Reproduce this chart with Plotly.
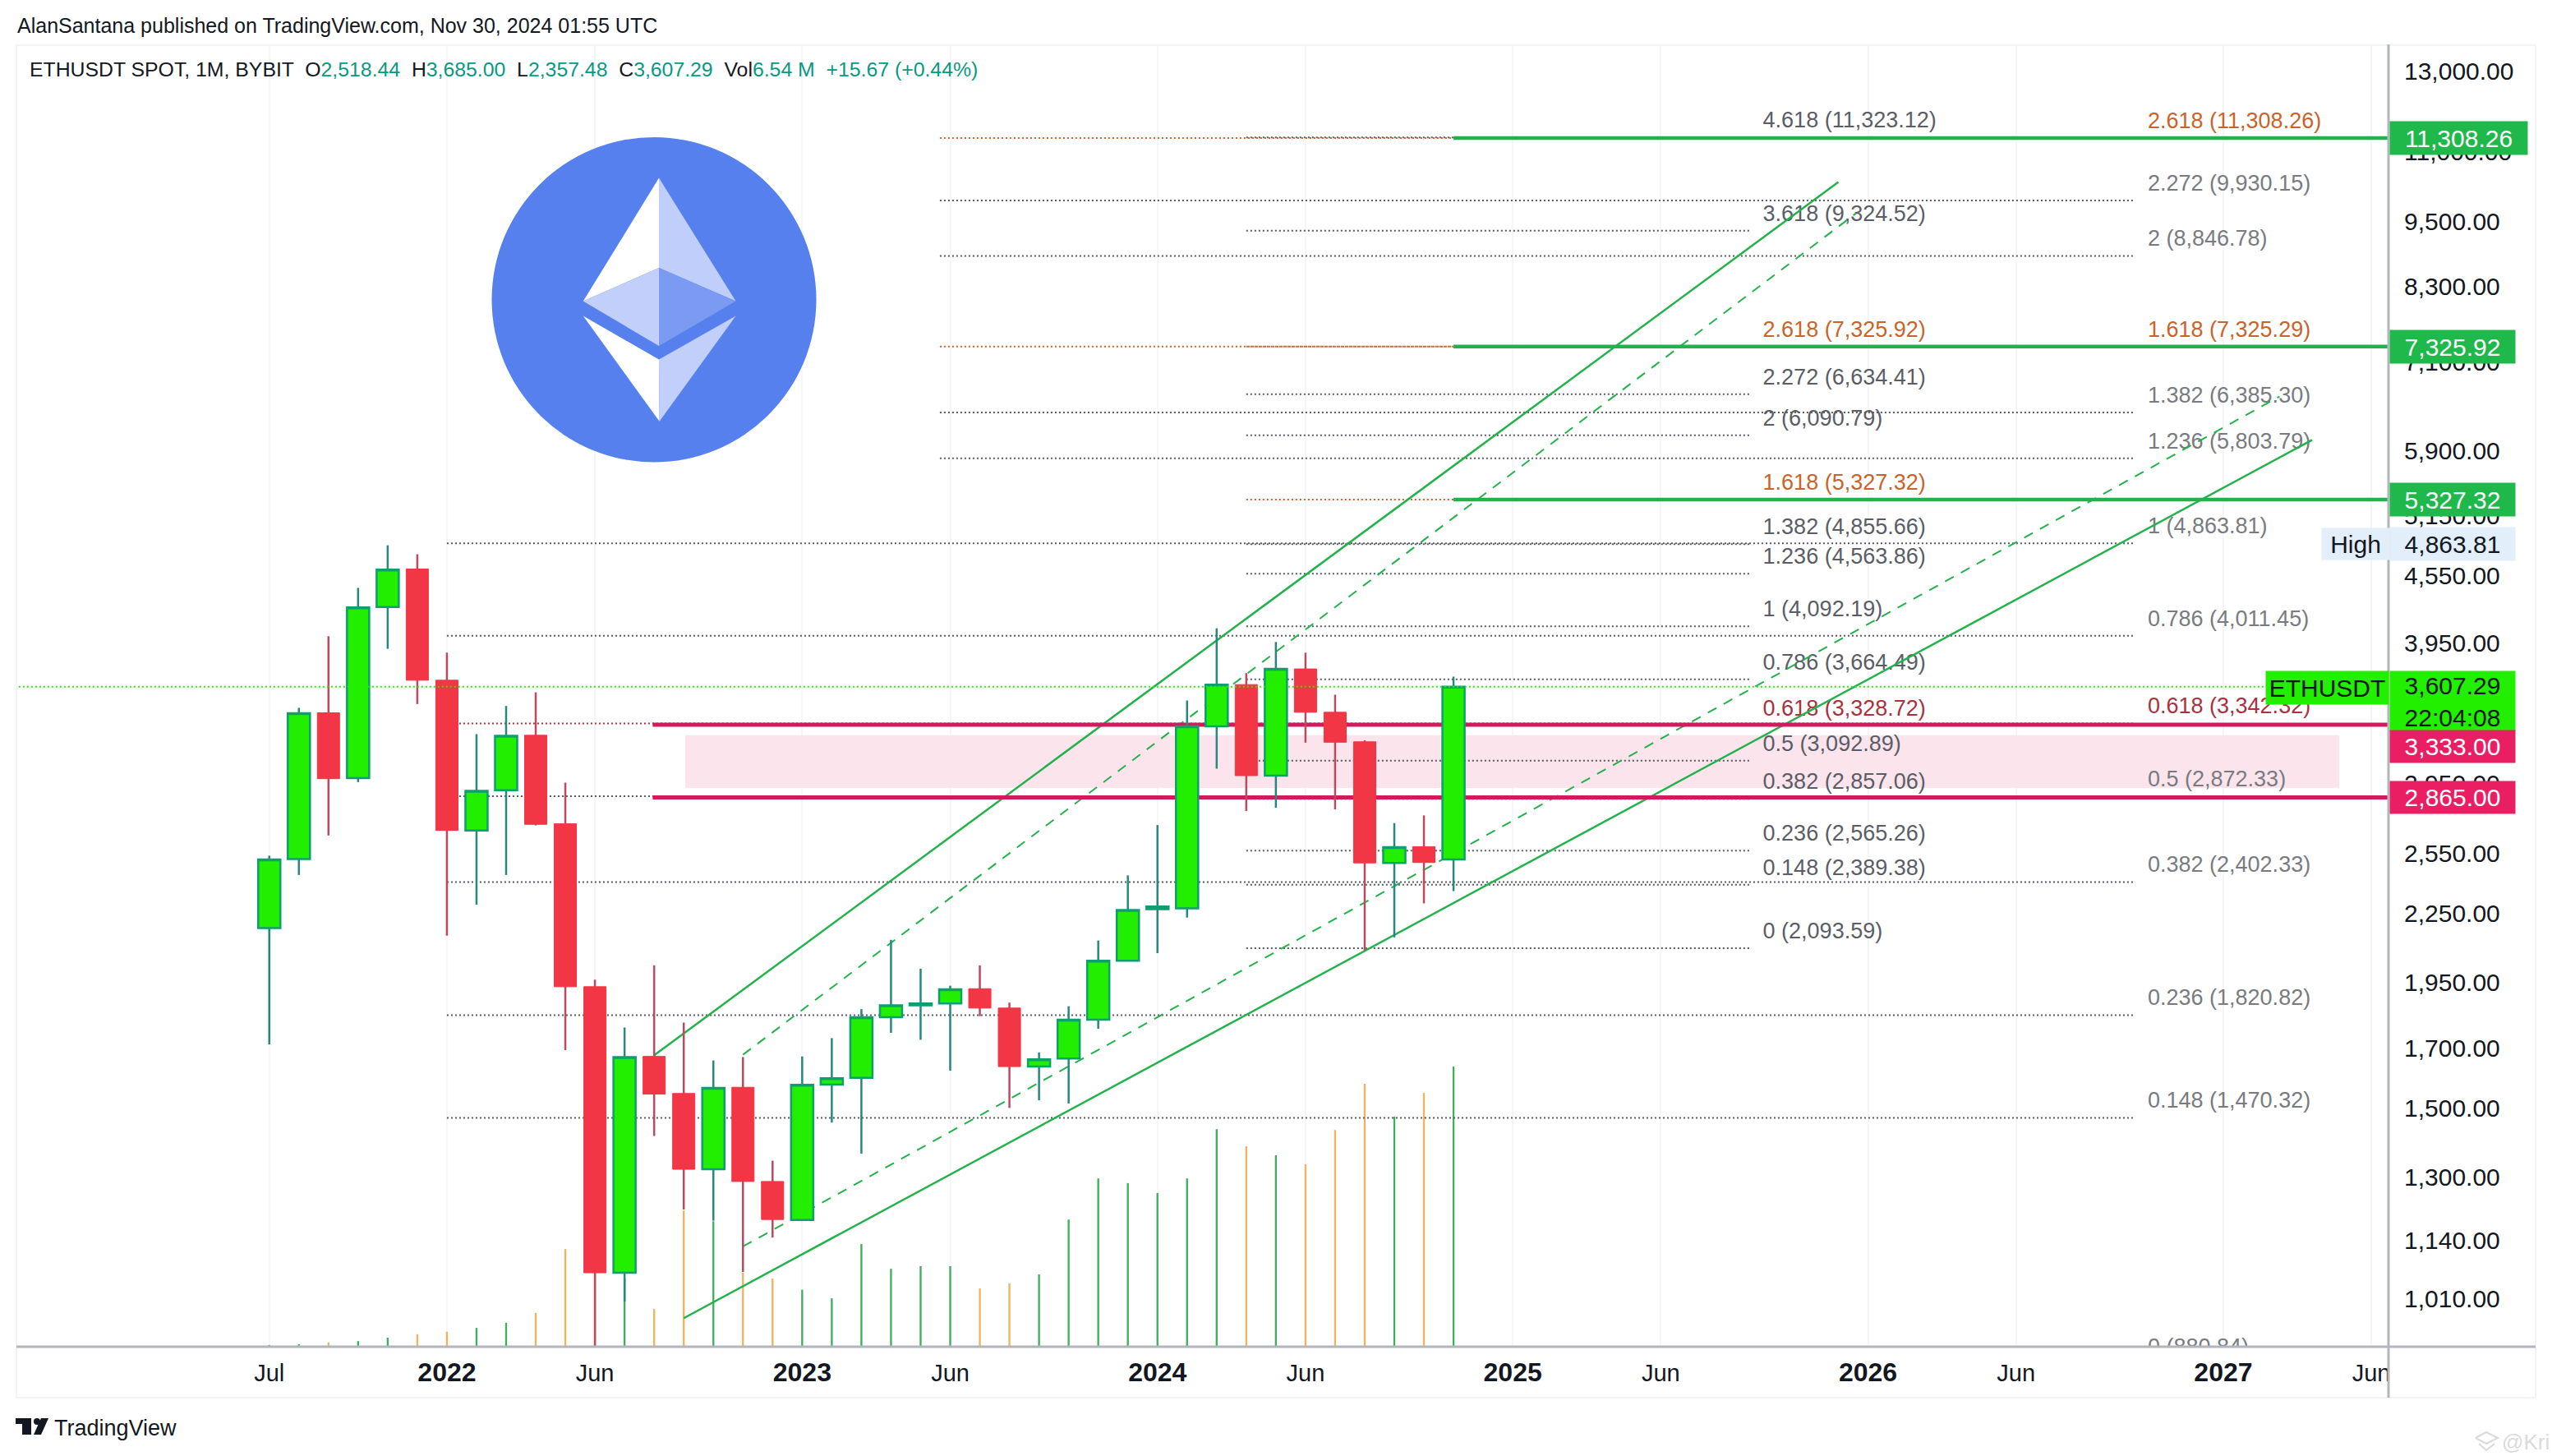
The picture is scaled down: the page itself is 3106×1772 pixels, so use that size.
import plotly.graph_objects as go

# monthly candles, Jul 2021 .. Nov 2024 (x = months since Jul 2021)
opens = [2183, 2520, 3417, 2983, 4259, 4610, 3657, 2675, 2908, 3261, 2712, 1932, 1065, 1671, 1547, 1321, 1567, 1288,
         1189, 1576, 1598, 1813, 1859, 1866, 1924, 1848, 1636, 1664, 1804, 2039, 2270, 2274, 3322, 3624, 2998, 3744,
         3421, 3217, 2500, 2586, 2518.44]
highs = [2538, 3453, 4008, 4432, 4843, 4754, 3873, 3269, 3466, 3566, 2955, 1961, 1775, 2020, 1793, 1657, 1669, 1345,
         1671, 1736, 1844, 2130, 2006, 1936, 2020, 1869, 1685, 1855, 2127, 2436, 2705, 3506, 4074, 3712, 3960, 3873,
         3548, 3227, 2716, 2760, 3685.00]
lows = [1713, 2438, 2647, 2958, 3904, 3480, 2149, 2292, 2438, 2703, 1693, 881, 1003, 1416, 1215, 1187, 1067, 1146,
        1186, 1456, 1365, 1755, 1730, 1622, 1817, 1501, 1525, 1515, 1770, 2037, 2072, 2231, 3042, 2786, 2804, 3211,
        2795, 2083, 2141, 2298, 2357.48]
closes = [2518, 3414, 2979, 4255, 4604, 3657, 2675, 2905, 3258, 2709, 1932, 1065, 1669, 1545, 1321, 1565, 1288, 1190,
          1575, 1597, 1813, 1859, 1866, 1922, 1848, 1636, 1661, 1804, 2039, 2267, 2283, 3322, 3624, 2998, 3744, 3421,
          3214, 2500, 2584, 2502, 3607.29]
volumes = [0.04, 0.06, 0.10, 0.13, 0.21, 0.29, 0.35, 0.44, 0.56, 0.79, 2.28, 2.60, 1.60, 0.88, 3.18, 2.93, 1.73, 1.59,
           1.33, 1.13, 2.40, 1.82, 1.88, 1.88, 1.36, 1.48, 1.69, 2.97, 3.93, 3.82, 3.59, 3.93, 5.08, 4.68, 4.47, 4.26,
           5.06, 6.14, 5.37, 5.93, 6.54]
months = list(range(len(opens)))

# time axis
YEAR = '<span style="font-size:32px;font-weight:bold">%s</span>'
tick_months = [0, 6, 11, 18, 23, 30, 35, 42, 47, 54, 59, 66, 71]
tick_labels = ["Jul", YEAR % "2022", "Jun", YEAR % "2023", "Jun", YEAR % "2024", "Jun", YEAR % "2025", "Jun",
               YEAR % "2026", "Jun", YEAR % "2027", "Jun"]
price_ticks = [13000, 11000, 9500, 8300, 7100, 5900, 5150, 4550, 3950, 3350, 2950, 2550, 2250, 1950, 1700, 1500, 1300,
               1140, 1010]

# fib levels: first one drawn from Apr 2024, second from the 2021 high
fib_a_labels = ["4.618 (11,323.12)", "3.618 (9,324.52)", "2.618 (7,325.92)", "2.272 (6,634.41)", "2 (6,090.79)",
                "1.618 (5,327.32)", "1.382 (4,855.66)", "1.236 (4,563.86)", "1 (4,092.19)", "0.786 (3,664.49)",
                "0.618 (3,328.72)", "0.5 (3,092.89)", "0.382 (2,857.06)", "0.236 (2,565.26)", "0.148 (2,389.38)",
                "0 (2,093.59)"]
fib_a_prices = [11323.12, 9324.52, 7325.92, 6634.41, 6090.79, 5327.32, 4855.66, 4563.86, 4092.19, 3664.49, 3328.72,
                3092.89, 2857.06, 2565.26, 2389.38, 2093.59]
fib_b_labels = ["2.618 (11,308.26)", "2.272 (9,930.15)", "2 (8,846.78)", "1.618 (7,325.29)", "1.382 (6,385.30)",
                "1.236 (5,803.79)", "1 (4,863.81)", "0.786 (4,011.45)", "0.618 (3,342.32)", "0.5 (2,872.33)",
                "0.382 (2,402.33)", "0.236 (1,820.82)", "0.148 (1,470.32)", "0 (880.84)"]
fib_b_prices = [11308.26, 9930.15, 8846.78, 7325.29, 6385.30, 5803.79, 4863.81, 4011.45, 3342.32, 2872.33, 2402.33,
                1820.82, 1470.32, 880.84]
fib_b_starts = [22.65] * 6 + [6] * 8

green_levels = [11308.26, 7325.92, 5327.32]
red_levels = [3333.00, 2865.00]
zone_low, zone_high = 2922, 3262
last_price = 3607.29

# channel lines as (month, price)
upper_x, upper_y = [13, 53], [1675, 10318]
lower_x, lower_y = [14, 69], [969, 6031]
mid_up_x, mid_up_y = [16, 53.6], [1677, 9669]
mid_low_x, mid_low_y = [16, 67.9], [1125, 6602]

GREEN = "#22B24C"
MAGENTA = "#D01C5E"
BRIGHT = "#22EE00"
FONT = "Liberation Sans"
INK = "#131722"
PRICE_RANGE = [2.9605, 4.1373]

# page layout in pixels
W, H = 3106, 1772
L, R, T, B = 20, 2907, 55, 1639


def px(x):
    return (x - L) / (R - L)


def py(y):
    return 1 - (y - T) / (B - T)


def fib_lines(levels, starts, end, color):
    xs, ys = [], []
    for price, start in zip(levels, starts):
        xs += [start, end, None]
        ys += [price, price, None]
    return go.Scatter(x=xs, y=ys, yaxis="y2", mode="lines", line=dict(color=color, width=2, dash="2px,3px"),
                      hoverinfo="skip")


def fib_color(label, base):
    if label.startswith(("1.618", "2.618")):
        return "#C8642B"
    if label.startswith("0.618"):
        return "#A8323E"
    return base


fig = go.Figure()

# volume sits on its own linear axis underneath everything
vol_colors = ["#3FAF5E" if c >= o else "#F2B25E" for o, c in zip(opens, closes)]
fig.add_trace(go.Bar(x=months, y=volumes, width=0.065, marker=dict(color=vol_colors, line_width=0), hoverinfo="skip"))

# zone
fig.add_trace(go.Scatter(x=[14.05, 69.92, 69.92, 14.05, 14.05], y=[zone_low, zone_low, zone_high, zone_high, zone_low],
                         yaxis="y2", mode="lines", fill="toself", fillcolor="#FCE4EC", line_width=0, hoverinfo="skip"))

# fib lines
a_starts = [33] * len(fib_a_prices)
a_colors = [fib_color(t, "#55585F") for t in fib_a_labels]
b_colors = [fib_color(t, "#55585F") for t in fib_b_labels]
for col in sorted(set(a_colors)):
    idx = [i for i, c in enumerate(a_colors) if c == col]
    fig.add_trace(fib_lines([fib_a_prices[i] for i in idx], [a_starts[i] for i in idx], 50, col))
for col in sorted(set(b_colors)):
    idx = [i for i, c in enumerate(b_colors) if c == col]
    fig.add_trace(fib_lines([fib_b_prices[i] for i in idx], [fib_b_starts[i] for i in idx], 63, col))

# fib labels
invisible = dict(size=7, opacity=0)
fig.add_trace(go.Scatter(x=[50.3] * len(fib_a_prices), y=fib_a_prices, yaxis="y2", mode="text+markers",
                         text=fib_a_labels, marker=invisible, textposition="top right", hoverinfo="skip",
                         textfont=dict(family=FONT, size=27, color=[fib_color(t, "#5A5D66") for t in fib_a_labels])))
fig.add_trace(go.Scatter(x=[63.3] * len(fib_b_prices), y=fib_b_prices, yaxis="y2", mode="text+markers",
                         text=fib_b_labels, marker=invisible, textposition="top right", hoverinfo="skip",
                         textfont=dict(family=FONT, size=27, color=[fib_color(t, "#787B80") for t in fib_b_labels])))

# channel
for xs, ys, dash, width in [(upper_x, upper_y, "solid", 2.5), (lower_x, lower_y, "solid", 2.5),
                            (mid_up_x, mid_up_y, "12px,10px", 2), (mid_low_x, mid_low_y, "12px,10px", 2)]:
    fig.add_trace(go.Scatter(x=xs, y=ys, yaxis="y2", mode="lines", line=dict(color=GREEN, width=width, dash=dash),
                             hoverinfo="skip"))

# horizontal levels
for lv in green_levels:
    fig.add_trace(go.Scatter(x=[40, 71.6], y=[lv, lv], yaxis="y2", mode="lines", line=dict(color=GREEN, width=4.5),
                             hoverinfo="skip"))
for lv in red_levels:
    fig.add_trace(go.Scatter(x=[12.95, 71.6], y=[lv, lv], yaxis="y2", mode="lines", line=dict(color=MAGENTA, width=5),
                             hoverinfo="skip"))

# wicks then bodies, bodies on a third axis because plotly layers scatter over candlesticks on one axis
for up, col in [(True, "#26887E"), (False, "#BC4A5C")]:
    wx, wy = [], []
    for m, o, h, l, c in zip(months, opens, highs, lows, closes):
        if (c >= o) == up:
            wx += [m, m, None]
            wy += [l, h, None]
    fig.add_trace(go.Scatter(x=wx, y=wy, yaxis="y2", mode="lines", line=dict(color=col, width=2.5), hoverinfo="skip"))

fig.add_trace(go.Candlestick(x=months, open=opens, close=closes, yaxis="y3",
                             high=[max(o, c) for o, c in zip(opens, closes)],
                             low=[min(o, c) for o, c in zip(opens, closes)],
                             whiskerwidth=0, hoverinfo="skip",
                             increasing=dict(fillcolor=BRIGHT, line=dict(color="#0E9F6E", width=2.5)),
                             decreasing=dict(fillcolor="#F23645", line=dict(color="#F23645", width=1))))

# last price line
fig.add_trace(go.Scatter(x=[-8.6, 71.6], y=[last_price, last_price], yaxis="y3", mode="lines",
                         line=dict(color=BRIGHT, width=2, dash="2px,3px"), hoverinfo="skip"))

shapes = []


def paper_rect(x0, y0, x1, y1, color):
    shapes.append(dict(type="rect", xref="paper", yref="paper", x0=px(x0), x1=px(x1), y0=py(y0), y1=py(y1),
                       fillcolor=color, line_width=0))


def poly(points, color):
    path = "M " + " L ".join(f"{px(x)} {py(y)}" for x, y in points) + " Z"
    shapes.append(dict(type="path", xref="paper", yref="paper", path=path, fillcolor=color, line_width=0))


def open_path(points, color):
    path = "M " + " L ".join(f"{px(x)} {py(y)}" for x, y in points)
    shapes.append(dict(type="path", xref="paper", yref="paper", path=path, line=dict(color=color, width=2)))


# frame
paper_rect(19, 54, 3087, 56, "#F0F3FA")
paper_rect(19, 54, 21, 1702, "#F0F3FA")
paper_rect(3085, 54, 3087, 1702, "#F0F3FA")
paper_rect(19, 1700, 3087, 1702, "#F0F3FA")
paper_rect(20, 1637.5, 3086, 1640.5, "#B2B5BE")
paper_rect(2905.5, 54, 2908.5, 1701, "#B2B5BE")

# ethereum logo
shapes.append(dict(type="circle", xref="paper", yref="paper", x0=px(598.5), x1=px(993.5), y0=py(167), y1=py(562.5),
                   fillcolor="#5580EE", line_width=0))
apex, left, right = (802, 216.6), (709.8, 366.6), (895.5, 366.6)
mid_top, mid_bot = (802, 326), (802, 421)
tip_l, tip_r, low_c, low_apex = (709.8, 384.6), (895.5, 384.6), (802, 437.4), (802.6, 512.8)
poly([apex, left, mid_top], "#FFFFFF")
poly([apex, mid_top, right], "#BFCEFA")
poly([left, mid_top, mid_bot], "#C1CFFA")
poly([mid_top, right, mid_bot], "#7B9AF2")
poly([tip_l, low_c, low_apex], "#FFFFFF")
poly([low_c, tip_r, low_apex], "#C1CFFA")

# tradingview mark
poly([(19, 1726), (38, 1726), (38, 1746), (27, 1746), (27, 1733), (19, 1733)], INK)
shapes.append(dict(type="circle", xref="paper", yref="paper", x0=px(41), x1=px(49), y0=py(1726), y1=py(1734),
                   fillcolor=INK, line_width=0))
poly([(50, 1726), (59, 1726), (50, 1746), (41, 1746)], INK)

# stamp in the corner
open_path([(3013, 1750), (3026, 1743), (3040, 1750), (3026, 1757), (3013, 1750)], "#DADADA")
open_path([(3017, 1757), (3026, 1765), (3036, 1757)], "#DADADA")

annotations = []


def note(x, y, text, size=29, color=INK, **kw):
    annotations.append(dict(xref="paper", yref="paper", x=px(x), y=py(y), text=text, showarrow=False,
                            font=dict(family=FONT, size=size, color=color), xanchor=kw.pop("xanchor", "left"),
                            yanchor="middle", **kw))


def tag(y, text, color, text_color, width=152, height=40):
    note(2908, y, text, size=30, color=text_color, bgcolor=color, width=width, height=height, align="center",
         borderpad=0)


note(19, 31, "AlanSantana published on TradingView.com, Nov 30, 2024 01:55 UTC", size=25)
teal = "#089981"
vals = [("O", "2,518.44"), ("H", "3,685.00"), ("L", "2,357.48"), ("C", "3,607.29"), ("Vol", "6.54 M")]
head = "ETHUSDT SPOT, 1M, BYBIT  "
head += "  ".join(f'{k}<span style="color:{teal}">{v}</span>' for k, v in vals)
head += f'  <span style="color:{teal}">+15.67 (+0.44%)</span>'
note(34, 85, head, size=24.8)
note(64, 1738, "TradingView", size=27)
note(3043, 1755, "@Kri", size=26, color="#DADADA")

tag(168, "11,308.26", "#1FB84B", "#FFFFFF", width=167)
tag(421.5, "7,325.92", "#1FB84B", "#FFFFFF")
tag(608, "5,327.32", "#1FB84B", "#FFFFFF")
tag(662, "4,863.81", "#E3EEFB", INK)
note(2825, 662, "High", size=30, color=INK, bgcolor="#E3EEFB", width=82, height=38, align="center", borderpad=0)
note(2757, 837, "ETHUSDT", size=30, color=INK, bgcolor=BRIGHT, width=149, height=40, align="center", borderpad=0)
tag(853.5, "3,607.29<br>22:04:08", BRIGHT, INK, height=73)
tag(908.5, "3,333.00", "#E91E63", "#FFFFFF", height=39)
tag(970.5, "2,865.00", "#E91E63", "#FFFFFF", height=39)

fig.update_layout(
    width=W, height=H, showlegend=False, plot_bgcolor="#FFFFFF", paper_bgcolor="#FFFFFF",
    margin=dict(l=L, r=W - R, t=T, b=H - B, pad=0),
    font=dict(family=FONT, size=30, color=INK),
    shapes=shapes, annotations=annotations, boxgap=0.25, boxgroupgap=0,
    xaxis=dict(range=[-8.54, 71.58], tickmode="array", tickvals=tick_months, ticktext=tick_labels, ticks="",
               showgrid=True, gridcolor="#F5F6F9", gridwidth=2, zeroline=False, rangeslider=dict(visible=False),
               showline=False, tickangle=0, ticklabelstandoff=12, tickfont=dict(size=29)),
    yaxis=dict(range=[0, 30.39], visible=False, fixedrange=True),
    yaxis2=dict(overlaying="y", side="right", type="log", range=PRICE_RANGE, tickmode="array",
                tickvals=price_ticks, ticktext=[f"{p:,.2f}" for p in price_ticks], ticks="", showgrid=False,
                zeroline=False, showline=False, ticklabelstandoff=18),
    yaxis3=dict(overlaying="y", side="right", type="log", range=PRICE_RANGE, showticklabels=False, ticks="",
                showgrid=False, zeroline=False, showline=False),
)

fig.write_html("out.html", post_script="document.body.style.margin='0';", config={"displayModeBar": False})
